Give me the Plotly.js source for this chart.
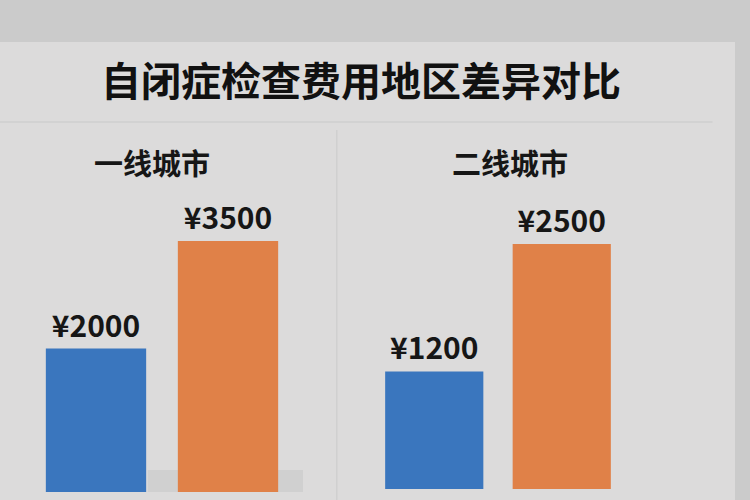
<!DOCTYPE html>
<html>
<head>
<meta charset="utf-8">
<script src="https://cdn.plot.ly/plotly-3.0.1.min.js"></script>
<style>html,body{margin:0;padding:0;background:#cbcbcb;}#chart{width:750px;height:500px;}</style>
</head>
<body>
<div id="chart"></div>
<script>
const chartTitle = "自闭症检查费用地区差异对比";
const regions = ["一线城市", "二线城市"];
const categories = ["A", "B"];
const tier1Values = [2000, 3500];
const tier2Values = [1200, 2500];
const barColors = ["#3a76be", "#e08148"];

const font = "Noto Sans CJK SC, Noto Sans, sans-serif";
const fmt = v => "¥" + v;

const traces = [
  {
    type: "bar", x: categories, y: tier1Values, xaxis: "x", yaxis: "y",
    marker: {color: barColors}, width: 0.76,
    text: tier1Values.map(fmt), textposition: "outside", cliponaxis: false,
    textfont: {family: font, size: 30, color: "#161616", weight: "bold"},
    hoverinfo: "skip"
  },
  {
    type: "bar", x: categories, y: tier2Values, xaxis: "x2", yaxis: "y2",
    marker: {color: barColors}, width: 0.77,
    text: tier2Values.map(fmt), textposition: "outside", cliponaxis: false,
    textfont: {family: font, size: 30, color: "#161616", weight: "bold"},
    hoverinfo: "skip"
  }
];

const hidden = {showgrid: false, zeroline: false, showticklabels: false, showline: false, ticks: "", fixedrange: true};

const layout = {
  width: 750, height: 500,
  margin: {l: 0, r: 0, t: 0, b: 0},
  paper_bgcolor: "#cbcbcb",
  plot_bgcolor: "rgba(0,0,0,0)",
  showlegend: false,
  xaxis: Object.assign({domain: [0.04, 0.392], range: [-0.5, 1.5]}, hidden),
  yaxis: Object.assign({domain: [0.016, 0.518], range: [0, 3500]}, hidden),
  xaxis2: Object.assign({domain: [0.494, 0.834], range: [-0.5, 1.5], anchor: "y2"}, hidden),
  yaxis2: Object.assign({domain: [0.022, 0.512], range: [0, 2500], anchor: "x2"}, hidden),
  shapes: [
    {type: "rect", xref: "paper", yref: "paper", x0: 0, x1: 0.98, y0: 0, y1: 0.916,
     fillcolor: "#dcdbdb", line: {width: 0}, layer: "below"},
    {type: "line", xref: "paper", yref: "paper", x0: 0, x1: 0.95, y0: 0.756, y1: 0.756,
     line: {color: "#cfcfcf", width: 1.5}, layer: "below"},
    {type: "line", xref: "paper", yref: "paper", x0: 0.449, x1: 0.449, y0: 0, y1: 0.74,
     line: {color: "#d0d0d0", width: 1.5}, layer: "below"},
    {type: "rect", xref: "paper", yref: "paper", x0: 0.197, x1: 0.404, y0: 0.016, y1: 0.06,
     fillcolor: "#d0d0d0", line: {width: 0}, layer: "below"}
  ],
  annotations: [
    {text: chartTitle, xref: "paper", yref: "paper", x: 0.481, y: 0.842, showarrow: false,
     xanchor: "center", yanchor: "middle", font: {family: font, size: 40, color: "#111111", weight: "bold"}},
    {text: regions[0], xref: "paper", yref: "paper", x: 0.203, y: 0.676, showarrow: false,
     xanchor: "center", yanchor: "middle", font: {family: font, size: 29, color: "#161616", weight: "bold"}},
    {text: regions[1], xref: "paper", yref: "paper", x: 0.68, y: 0.676, showarrow: false,
     xanchor: "center", yanchor: "middle", font: {family: font, size: 29, color: "#161616", weight: "bold"}}
  ]
};

Plotly.newPlot("chart", traces, layout, {displayModeBar: false, staticPlot: true});
</script>
</body>
</html>
